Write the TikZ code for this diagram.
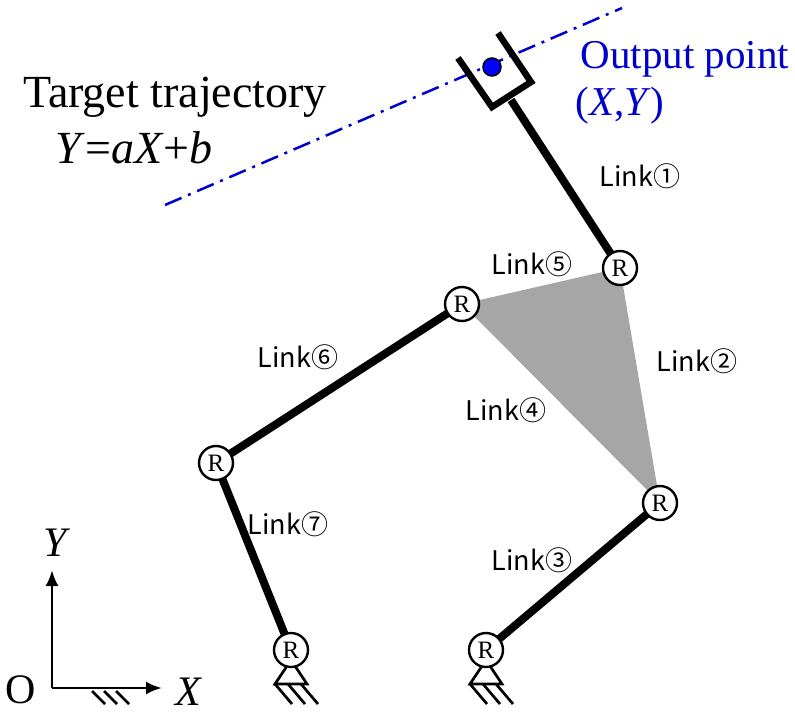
\documentclass[tikz,border=0pt]{standalone}
\usepackage{fontspec}
\usetikzlibrary{arrows.meta}
\setmainfont{Liberation Serif}
\newfontfamily\cjk{Noto Sans CJK SC}
\begin{document}
\begin{tikzpicture}[x=1pt,y=-1pt,
  link/.style={line width=8pt},
  joint/.style={circle,draw,line width=2.4pt,fill=white,minimum size=34pt,inner sep=0pt,font=\fontsize{25}{25}\selectfont},
  lab/.style={font=\cjk\fontsize{27}{30}\selectfont},
  thin/.style={line width=2.7pt}]
\useasboundingbox (0,0) rectangle (795,720);
% trajectory
\draw[blue!80!black,line width=2.5pt,dash pattern=on 18pt off 7pt on 3pt off 7pt] (165,205) -- (622,8);
% triangle link 4
\fill[gray!70] (462,304) -- (620,268) -- (660,503) -- cycle;
% coordinates
\coordinate (J1) at (620,268);
\coordinate (J5) at (462,304);
\coordinate (J6) at (216,463);
\coordinate (J2) at (660,503);
\coordinate (GL) at (291,650);
\coordinate (GR) at (486,650);
\coordinate (S) at (511,100);
% links
\draw[link] (J1) -- (S);
\draw[link] (J5) -- (J6);
\draw[link] (J6) -- (GL);
\draw[link] (J2) -- (GR);
% slider
\draw[line width=6.5pt,line join=miter] (458,58) -- (492,107) -- (531,82) -- (498,33);
\fill[blue] (492,67) circle (9);
\draw[line width=1.5pt] (492,67) circle (9);
% grounds
\foreach \g in {GL,GR}{
  \draw[thin] ([shift={(0,10)}]\g) -- ([shift={(-16,34)}]\g) -- ([shift={(16,34)}]\g) -- cycle;
  \foreach \d in {-16,-3,10}
    \draw[thin] ([shift={(\d,34)}]\g) -- ([shift={(\d+17,54)}]\g);
}
% joints
\node[joint] (n1) at (J1) {R};
\node[joint] (n5) at (J5) {R};
\node[joint] (n6) at (J6) {R};
\node[joint] (n2) at (J2) {R};
\node[joint] (ngl) at (GL) {R};
\node[joint] (ngr) at (GR) {R};
% axes
\coordinate (O) at (52,688);
\coordinate (Yt) at (52,570);
\coordinate (Xt) at (162,688);
\draw[thin,-{Latex[length=16pt,width=13pt]}] (O) -- (Yt);
\draw[thin,-{Latex[length=16pt,width=13pt]}] (O) -- (Xt);
\foreach \d in {92,104,116}
  \draw[thin] (\d,691) -- (\d+13,704);
\node[font=\fontsize{42}{42}\selectfont] (oo) at (21,690) {O};
\node[font=\itshape\fontsize{42}{42}\selectfont] (yy) at (55,543) {Y};
\node[font=\itshape\fontsize{42}{42}\selectfont] (xx) at (188,692) {X};
% texts
\node[font=\fontsize{46}{48}\selectfont] (tt) at (175,97) {Target trajectory};
\node[font=\fontsize{46}{48}\selectfont] (eq) at (134,148) {\textit{Y}=\textit{aX}+\textit{b}};
\node[blue!80!black,font=\fontsize{41}{44}\selectfont] (op) at (685,59) {Output point};
\node[blue!80!black,font=\fontsize{41}{44}\selectfont] (xy) at (620,106) {(\textit{X},\textit{Y})};
\node[lab] (l1) at (640,176) {Link①};
\node[lab] (l5) at (532,264) {Link⑤};
\node[lab] (l6) at (298,357) {Link⑥};
\node[lab] (l2) at (697,361) {Link②};
\node[lab] (l4) at (506,410) {Link④};
\node[lab] (l7) at (288,524) {Link⑦};
\node[lab] (l3) at (532,560) {Link③};
\end{tikzpicture}
\end{document}
